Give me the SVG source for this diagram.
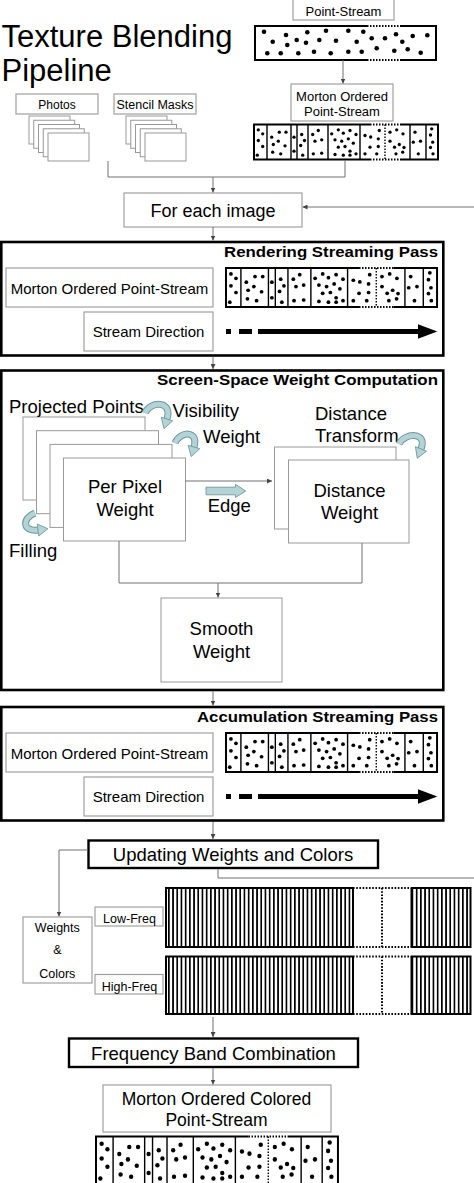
<svg xmlns="http://www.w3.org/2000/svg" xmlns:xlink="http://www.w3.org/1999/xlink" width="474" height="1183" viewBox="0 0 474 1183">
<style>
text{font-family:"Liberation Sans",Arial,sans-serif;fill:#000}
.gb{fill:#fff;stroke:#a0a0a0;stroke-width:1.2}
.pg{fill:#fff;stroke:#999;stroke-width:1}
.frame{fill:none;stroke:#000;stroke-width:2.6}
.bb{fill:#fff;stroke:#000;stroke-width:2.4}
.cn{fill:none;stroke:#707070;stroke-width:1}
.t11{font-size:12.5px}
.t13{font-size:13px}
.t15{font-size:15px}
.t18{font-size:18.5px}
.tb{font-size:15.5px;font-weight:bold}
.ca-o{fill:none;stroke:#6f979c;stroke-width:7}
.ca-i{fill:none;stroke:#b3d3d6;stroke-width:5}
.sb{stroke:#000;stroke-width:2;fill:none}
.sd{stroke:#000;stroke-width:1.4}
.dot{fill:#000}
.dot circle{r:1.65px}
</style>
<defs>
<marker id="ah" viewBox="0 0 6 6" refX="6" refY="3" markerWidth="5" markerHeight="5" markerUnits="userSpaceOnUse" orient="auto"><path d="M0,0 L6,3 L0,6 z" fill="#444"/></marker>
<marker id="lh" viewBox="-1 -7 12 14" refX="0" refY="0" markerWidth="12" markerHeight="14" markerUnits="userSpaceOnUse" orient="auto"><path d="M0,-6 L10,0 L0,6 z" fill="#b3d3d6" stroke="#6f979c" stroke-width="0.8"/></marker>
<pattern id="stripes" width="4.2" height="10" patternUnits="userSpaceOnUse"><rect width="4.2" height="10" fill="#fff"/><rect width="1.7" height="10" fill="#000"/></pattern>
<g id="mstream">
<rect width="184" height="35" fill="#fff"/>
<g class="dot">
<circle cx="4.3" cy="5.3" r="1.65"/><circle cx="8.7" cy="9.3" r="1.65"/><circle cx="4.3" cy="16" r="1.65"/><circle cx="8.7" cy="22" r="1.65"/><circle cx="3.3" cy="30.7" r="1.65"/>
<circle cx="17.7" cy="12.7" r="1.65"/><circle cx="25.3" cy="7.7" r="1.65"/><circle cx="32" cy="7.7" r="1.65"/><circle cx="19.3" cy="20" r="1.65"/><circle cx="24.3" cy="16.7" r="1.65"/><circle cx="31" cy="21.3" r="1.65"/><circle cx="18.7" cy="27.7" r="1.65"/><circle cx="26.7" cy="29.3" r="1.65"/>
<circle cx="40" cy="12.7" r="1.65"/><circle cx="40" cy="26.7" r="1.65"/>
<circle cx="47.7" cy="10" r="1.65"/><circle cx="50.5" cy="16" r="1.65"/><circle cx="46.7" cy="21" r="1.65"/><circle cx="48.7" cy="30.7" r="1.65"/>
<circle cx="58.7" cy="10" r="1.65"/><circle cx="64.3" cy="6" r="1.65"/><circle cx="61" cy="16.7" r="1.65"/><circle cx="67.7" cy="15.3" r="1.65"/><circle cx="59.3" cy="29.3" r="1.65"/><circle cx="67.7" cy="28.7" r="1.65"/>
<circle cx="77.7" cy="9.3" r="1.65"/><circle cx="84.3" cy="5.3" r="1.65"/><circle cx="89.3" cy="8.7" r="1.65"/><circle cx="96" cy="6" r="1.65"/><circle cx="102" cy="10" r="1.65"/><circle cx="81" cy="15.3" r="1.65"/><circle cx="87.7" cy="16.7" r="1.65"/><circle cx="94.3" cy="14.3" r="1.65"/><circle cx="99.3" cy="18.7" r="1.65"/><circle cx="84.3" cy="22.7" r="1.65"/><circle cx="91" cy="22" r="1.65"/><circle cx="96" cy="26.7" r="1.65"/><circle cx="81" cy="30" r="1.65"/><circle cx="89.3" cy="30.7" r="1.65"/><circle cx="96" cy="30.7" r="1.65"/><circle cx="102" cy="29.3" r="1.65"/>
<circle cx="111" cy="11" r="1.65"/><circle cx="116.7" cy="12.5" r="1.65"/><circle cx="125.3" cy="6" r="1.65"/><circle cx="124.3" cy="14.3" r="1.65"/><circle cx="116" cy="22.7" r="1.65"/><circle cx="124.3" cy="22" r="1.65"/><circle cx="111" cy="29.3" r="1.65"/><circle cx="122.7" cy="29.3" r="1.65"/>
<circle cx="136" cy="7.7" r="1.65"/><circle cx="142.7" cy="5.3" r="1.65"/><circle cx="149" cy="9.3" r="1.65"/><circle cx="136" cy="16.7" r="1.65"/><circle cx="140.5" cy="22.7" r="1.65"/><circle cx="145.3" cy="20" r="1.65"/><circle cx="150" cy="23" r="1.65"/><circle cx="142" cy="29.3" r="1.65"/><circle cx="148.7" cy="27.7" r="1.65"/>
<circle cx="161" cy="7.7" r="1.65"/><circle cx="159.3" cy="17.7" r="1.65"/><circle cx="166.5" cy="16.7" r="1.65"/><circle cx="164.3" cy="29.3" r="1.65"/>
<circle cx="177.7" cy="4.3" r="1.65"/><circle cx="176.5" cy="10.5" r="1.65"/><circle cx="178.7" cy="17.7" r="1.65"/><circle cx="176.5" cy="23" r="1.65"/><circle cx="179" cy="29.3" r="1.65"/>
</g>
<path class="sd" vector-effect="non-scaling-stroke" d="M13,0V35M37,0V35M43,0V35M54,0V35M74,0V35M106,0V35M156,0V35M172,0V35"/>
<path class="sd" vector-effect="non-scaling-stroke" stroke-dasharray="1.5 1.5" d="M131,0V35"/>
<path class="sb" vector-effect="non-scaling-stroke" d="M116,0H0V35H116M146,0H184V35H146"/>
<path class="sb" vector-effect="non-scaling-stroke" stroke-dasharray="1.5 1.5" d="M116,0H146M116,35H146"/>
</g>
</defs>

<g id="title">
<text x="1.5" y="47" style="font-size:31px">Texture Blending</text>
<text x="1.5" y="81" style="font-size:31px">Pipeline</text>
</g>

<g id="point-stream-label">
<rect class="gb" x="293" y="-5" width="101" height="25"/>
<text class="t13" x="343.5" y="16" text-anchor="middle">Point-Stream</text>
</g>

<g id="point-stream">
<rect x="255" y="26" width="181" height="34" fill="#fff"/>
<g fill="#000">
<circle cx="264" cy="31.7" r="2.3"/><circle cx="272.7" cy="41.7" r="2.3"/><circle cx="267.3" cy="53.3" r="2.3"/><circle cx="280.7" cy="53.3" r="2.3"/><circle cx="286" cy="35" r="2.3"/><circle cx="287.3" cy="45" r="2.3"/><circle cx="296.7" cy="40" r="2.3"/><circle cx="298.3" cy="53.3" r="2.3"/><circle cx="306" cy="42.7" r="2.3"/><circle cx="307.3" cy="32.3" r="2.3"/><circle cx="314" cy="51.7" r="2.3"/><circle cx="319.3" cy="40" r="2.3"/><circle cx="326" cy="30.7" r="2.3"/><circle cx="330.7" cy="53.3" r="2.3"/><circle cx="336" cy="40.7" r="2.3"/><circle cx="348.3" cy="30.7" r="2.3"/><circle cx="348.3" cy="51.7" r="2.3"/><circle cx="356.7" cy="41.7" r="2.3"/><circle cx="361.7" cy="51.7" r="2.3"/><circle cx="363.3" cy="31.7" r="2.3"/><circle cx="371.7" cy="38.3" r="2.3"/><circle cx="376.7" cy="48.3" r="2.3"/><circle cx="385" cy="38.3" r="2.3"/><circle cx="396" cy="34.3" r="2.3"/><circle cx="394.3" cy="50.7" r="2.3"/><circle cx="402.3" cy="41.7" r="2.3"/><circle cx="407.7" cy="49.3" r="2.3"/><circle cx="412.7" cy="36" r="2.3"/><circle cx="420.7" cy="52.7" r="2.3"/><circle cx="427.3" cy="35.3" r="2.3"/>
</g>
<path class="sb" d="M367,26H255V60H367M400,26H436V60H400"/>
<path class="sb" stroke-dasharray="1.5 1.5" d="M367,26H400M367,60H400"/>
</g>

<g id="morton-label-top">
<rect class="gb" x="291" y="84" width="102" height="37"/>
<text class="t13" x="342" y="100.5" text-anchor="middle">Morton Ordered</text>
<text class="t13" x="342" y="115.5" text-anchor="middle">Point-Stream</text>
</g>
<g id="morton-stream-top"><use xlink:href="#mstream" transform="translate(254,124.5)"/></g>

<g id="photos">
<rect class="gb" x="16" y="94" width="82" height="20"/>
<text x="57" y="109" text-anchor="middle" style="font-size:12px">Photos</text>
<rect class="pg" x="29" y="116" width="41" height="28"/>
<rect class="pg" x="33.75" y="120.25" width="41" height="28"/>
<rect class="pg" x="38.5" y="124.5" width="41" height="28"/>
<rect class="pg" x="43.25" y="128.75" width="41" height="28"/>
<rect class="pg" x="48" y="133" width="41" height="28"/>
</g>
<g id="stencil-masks">
<rect class="gb" x="114" y="94" width="82" height="20"/>
<text class="t11" x="155" y="109" text-anchor="middle">Stencil Masks</text>
<rect class="pg" x="126" y="116" width="41" height="28"/>
<rect class="pg" x="130.75" y="120.25" width="41" height="28"/>
<rect class="pg" x="135.5" y="124.5" width="41" height="28"/>
<rect class="pg" x="140.25" y="128.75" width="41" height="28"/>
<rect class="pg" x="145" y="133" width="41" height="28"/>
</g>

<g id="for-each-image">
<rect class="gb" x="124" y="193" width="178" height="34"/>
<text x="213" y="216.7" text-anchor="middle" style="font-size:18px">For each image</text>
</g>

<g id="rendering-pass">
<rect class="frame" x="1.3" y="242" width="442" height="113.5"/>
<text class="tb" x="438" y="257" text-anchor="end" textLength="214" lengthAdjust="spacingAndGlyphs">Rendering Streaming Pass</text>
<rect class="gb" x="6" y="268" width="207" height="39"/>
<text class="t15" x="109.5" y="294" text-anchor="middle">Morton Ordered Point-Stream</text>
<rect class="gb" x="84" y="312" width="129" height="39"/>
<text class="t15" x="148.5" y="336.5" text-anchor="middle">Stream Direction</text>
<use xlink:href="#mstream" transform="translate(226,268) scale(1.147,1.114)"/>
<rect x="226" y="329" width="5" height="5"/>
<rect x="239" y="329" width="13" height="5"/>
<rect x="258" y="329" width="161" height="5"/>
<polygon points="418,324.3 437.3,331.5 418,338.7"/>
</g>

<g id="screen-space">
<rect class="frame" x="1.3" y="370.5" width="442" height="319.5"/>
<text class="tb" x="438" y="385" text-anchor="end" textLength="281" lengthAdjust="spacingAndGlyphs">Screen-Space Weight Computation</text>
</g>

<g id="per-pixel-weight">
<rect class="pg" x="23" y="417" width="122" height="83"/>
<rect class="pg" x="36.5" y="430.7" width="122" height="83"/>
<rect class="pg" x="50" y="444.4" width="122" height="83"/>
<rect class="pg" x="63.5" y="458" width="122" height="83"/>
<text class="t18" x="125" y="493" text-anchor="middle">Per Pixel</text>
<text class="t18" x="125" y="516" text-anchor="middle">Weight</text>
<text class="t18" x="9" y="413.3">Projected Points</text>
<text class="t18" x="172.5" y="417.3">Visibility</text>
<text class="t18" x="203" y="443.3">Weight</text>
<text class="t18" x="9" y="556.7">Filling</text>
<text class="t18" x="207.7" y="511.7">Edge</text>
</g>

<g id="distance-weight">
<rect class="pg" x="274.5" y="447" width="121.5" height="82"/>
<rect class="pg" x="288.5" y="460" width="120.5" height="83"/>
<text class="t18" x="349.5" y="496.7" text-anchor="middle">Distance</text>
<text class="t18" x="349.5" y="519" text-anchor="middle">Weight</text>
<text class="t18" x="315" y="420">Distance</text>
<text class="t18" x="315" y="441.7">Transform</text>
</g>

<g id="smooth-weight">
<rect class="pg" x="161" y="598" width="121" height="84"/>
<text class="t18" x="221.5" y="635.3" text-anchor="middle">Smooth</text>
<text class="t18" x="221.5" y="657.7" text-anchor="middle">Weight</text>
</g>

<g id="op-arrows">
<path class="ca-o" d="M145,413 C150,401 173,400 167,419"/>
<path class="ca-i" d="M145,413 C150,401 173,400 167,419" marker-end="url(#lh)"/>
<path class="ca-o" d="M175,443 C180,431 199,430 194,447"/>
<path class="ca-i" d="M175,443 C180,431 199,430 194,447" marker-end="url(#lh)"/>
<path class="ca-o" d="M399,444 C405,432 428,432 421,449"/>
<path class="ca-i" d="M399,444 C405,432 428,432 421,449" marker-end="url(#lh)"/>
<path class="ca-o" d="M35,513 C22,518 22,532 38,530"/>
<path class="ca-i" d="M35,513 C22,518 22,532 38,530" marker-end="url(#lh)"/>
<polygon points="206,487.2 235.5,487.2 235.5,484.3 245.7,491 235.5,497.5 235.5,494.8 206,494.8" fill="#b3d3d6" stroke="#6f979c" stroke-width="0.9"/>
</g>

<g id="accumulation-pass">
<rect class="frame" x="1.3" y="707" width="442" height="113.5"/>
<text class="tb" x="438" y="722" text-anchor="end" textLength="241" lengthAdjust="spacingAndGlyphs">Accumulation Streaming Pass</text>
<rect class="gb" x="6" y="733" width="207" height="39"/>
<text class="t15" x="109.5" y="759" text-anchor="middle">Morton Ordered Point-Stream</text>
<rect class="gb" x="84" y="777" width="129" height="39"/>
<text class="t15" x="148.5" y="801.5" text-anchor="middle">Stream Direction</text>
<use xlink:href="#mstream" transform="translate(226,733) scale(1.147,1.114)"/>
<rect x="226" y="794" width="5" height="5"/>
<rect x="239" y="794" width="13" height="5"/>
<rect x="258" y="794" width="161" height="5"/>
<polygon points="418,789.3 437.3,796.5 418,803.7"/>
</g>

<g id="updating">
<rect class="bb" x="88.5" y="840.5" width="289.5" height="27.5"/>
<text class="t18" x="233" y="860.7" text-anchor="middle">Updating Weights and Colors</text>
</g>

<g id="weights-colors">
<rect class="gb" x="23" y="917" width="69" height="66"/>
<text class="t11" x="57.3" y="931.7" text-anchor="middle">Weights</text>
<text class="t11" x="57.3" y="954" text-anchor="middle">&amp;</text>
<text class="t11" x="57.3" y="977.7" text-anchor="middle">Colors</text>
</g>

<g id="low-freq">
<rect class="gb" x="95" y="907" width="68" height="19"/>
<text class="t11" x="129.5" y="922.5" text-anchor="middle">Low-Freq</text>
<rect x="166" y="888" width="187" height="59" fill="url(#stripes)"/>
<rect x="411" y="888" width="60" height="59" fill="url(#stripes)"/>
<path class="sb" d="M353,888H166V947H353M412,888H470.5V947H412M353,888V947M411.5,888V947"/>
<path class="sb" stroke-dasharray="1.6 1.6" d="M353,888H412M353,947H412M382,888V947"/>
</g>

<g id="high-freq">
<rect class="gb" x="95" y="974.5" width="68" height="19.5"/>
<text class="t11" x="129.5" y="990.5" text-anchor="middle">High-Freq</text>
<rect x="166" y="956.5" width="187" height="57.5" fill="url(#stripes)"/>
<rect x="411" y="956.5" width="60" height="57.5" fill="url(#stripes)"/>
<path class="sb" d="M353,956.5H166V1014H353M412,956.5H470.5V1014H412M353,956.5V1014M411.5,956.5V1014"/>
<path class="sb" stroke-dasharray="1.6 1.6" d="M353,956.5H412M353,1014H412M382,956.5V1014"/>
</g>

<g id="frequency-band">
<rect class="bb" x="69" y="1038.5" width="289" height="28.5"/>
<text class="t18" x="213.5" y="1060" text-anchor="middle">Frequency Band Combination</text>
</g>

<g id="colored-stream">
<rect class="gb" x="103" y="1085" width="228" height="47"/>
<text x="216.5" y="1105" text-anchor="middle" style="font-size:17.5px">Morton Ordered Colored</text>
<text x="216.5" y="1126" text-anchor="middle" style="font-size:17.5px">Point-Stream</text>
<use xlink:href="#mstream" transform="translate(96,1136.5) scale(1.315,1.37)"/>
</g>

<g id="connectors">
<path class="cn" d="M343,60V83.5" marker-end="url(#ah)"/>
<path class="cn" d="M108,161V177H345V160"/>
<path class="cn" d="M213,177V192.5" marker-end="url(#ah)"/>
<path class="cn" d="M474,207H302.5" marker-end="url(#ah)"/>
<path class="cn" d="M213,227V240.5" marker-end="url(#ah)"/>
<path class="cn" d="M213,356.5V369" marker-end="url(#ah)"/>
<path class="cn" d="M185.5,481H272" marker-end="url(#ah)"/>
<path class="cn" d="M119,541V583H362V543"/>
<path class="cn" d="M218,583V597.5" marker-end="url(#ah)"/>
<path class="cn" d="M213,691V705.5" marker-end="url(#ah)"/>
<path class="cn" d="M213,822V839" marker-end="url(#ah)"/>
<path class="cn" d="M88,850H59V916.5" marker-end="url(#ah)"/>
<path class="cn" d="M218,869V878H474"/>
<path class="cn" d="M213,1017V1037" marker-end="url(#ah)"/>
<path class="cn" d="M213,1068V1084.5" marker-end="url(#ah)"/>
</g>
</svg>
